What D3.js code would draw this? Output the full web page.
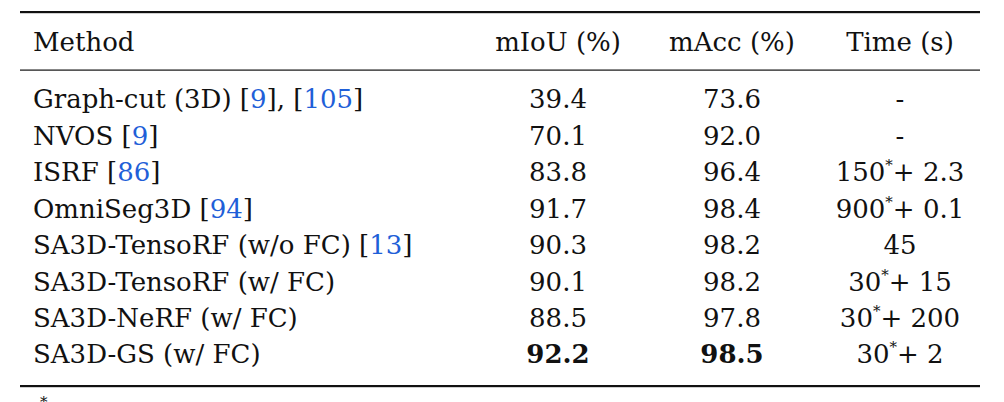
<!DOCTYPE html>
<html><head><meta charset="utf-8">
<script src="https://cdn.jsdelivr.net/npm/d3@7"></script>
<style>body{margin:0;background:#fff}text{font-family:"DejaVu Serif",serif;font-size:26px;fill:#111}</style>
</head><body><div id="chart"></div>
<script>
// Table data
var headers = ["Method", "mIoU (%)", "mAcc (%)", "Time (s)"];
var methods = ["Graph-cut (3D) ", "NVOS ", "ISRF ", "OmniSeg3D ", "SA3D-TensoRF (w/o FC) ", "SA3D-TensoRF (w/ FC)", "SA3D-NeRF (w/ FC)", "SA3D-GS (w/ FC)"];
var refs = [["9", "105"], ["9"], ["86"], ["94"], ["13"], [], [], []];
var miou = ["39.4", "70.1", "83.8", "91.7", "90.3", "90.1", "88.5", "92.2"];
var macc = ["73.6", "92.0", "96.4", "98.4", "98.2", "98.2", "97.8", "98.5"];
var timePre = ["-", "-", "150", "900", "45", "30", "30", "30"];
var timePost = ["", "", "+ 2.3", "+ 0.1", "", "+ 15", "+ 200", "+ 2"];
var boldRow = 7;

var svg = d3.select("#chart").append("svg").attr("width", 1004).attr("height", 402);

var x = d3.scaleOrdinal().domain(d3.range(4)).range([33, 558, 732, 900]);
var y = d3.scaleLinear().domain([-1, 0, 7]).range([42, 99, 354]);

// rules
svg.append("rect").attr("x", 20).attr("y", 11).attr("width", 960).attr("height", 2.2).attr("fill", "#111");
svg.append("rect").attr("x", 20).attr("y", 69.5).attr("width", 960).attr("height", 1.2).attr("fill", "#111");
svg.append("rect").attr("x", 20).attr("y", 385).attr("width", 960).attr("height", 2.2).attr("fill", "#111");

headers.forEach(function(h, i) {
  svg.append("text").attr("x", x(i)).attr("y", y(-1)).attr("dy", "0.36em")
    .attr("text-anchor", i ? "middle" : "start").text(h);
});

methods.forEach(function(m, r) {
  var t = svg.append("text").attr("x", x(0)).attr("y", y(r)).attr("dy", "0.36em");
  t.append("tspan").text(m);
  refs[r].forEach(function(ref, k) {
    t.append("tspan").text(k ? ", [" : "[");
    t.append("tspan").style("fill", "#1f5fd8").text(ref);
    t.append("tspan").text("]");
  });
  [miou, macc].forEach(function(col, c) {
    svg.append("text").attr("x", x(c + 1)).attr("y", y(r)).attr("dy", "0.36em")
      .attr("text-anchor", "middle").style("font-weight", r === boldRow ? "bold" : null).text(col[r]);
  });
  var tt = svg.append("text").attr("x", x(3)).attr("y", y(r)).attr("dy", "0.36em").attr("text-anchor", "middle");
  tt.append("tspan").text(timePre[r]);
  if (timePost[r]) {
    tt.append("tspan").attr("dy", -11).style("font-size", "15px").text("*");
    tt.append("tspan").attr("dy", 11).text(timePost[r]);
  }
});

svg.append("text").attr("x", 40).attr("y", 407).style("font-size", "15px").text("*");
</script></body></html>
